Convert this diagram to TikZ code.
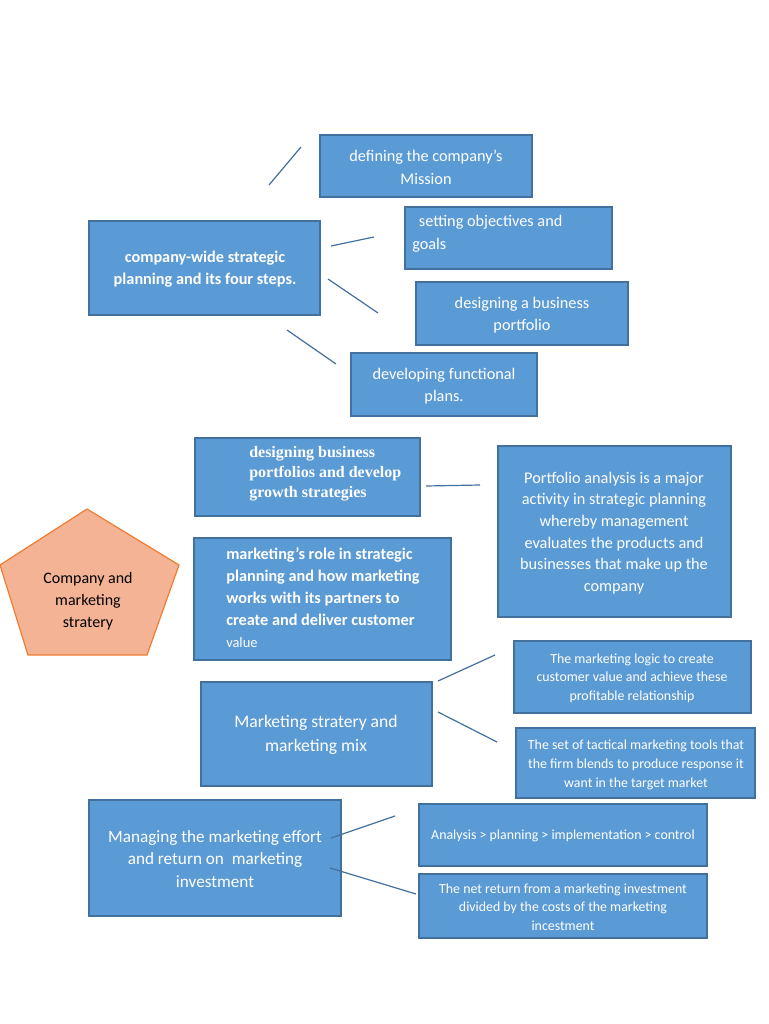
\documentclass[tikz,border=0pt]{standalone}
\usepackage{fontspec}
\setmainfont{Carlito}
\newfontfamily\serifb{Liberation Serif}
\usetikzlibrary{fit}
\definecolor{boxfill}{HTML}{5B9BD5}
\definecolor{boxline}{HTML}{41719C}
\definecolor{connc}{HTML}{44709E}
\definecolor{pentfill}{HTML}{F5B395}
\definecolor{pentline}{HTML}{ED7D31}
\begin{document}
\begin{tikzpicture}[x=0.75pt,y=-0.75pt,
  box/.style={draw=boxline, line width=1.1pt, fill=boxfill, inner sep=0pt},
  txt/.style={text=white, align=center, inner sep=0pt},
  fa/.style={font=\fontsize{12.2}{17}\selectfont},
  fb/.style={font=\fontsize{12.2}{16.5}\selectfont\bfseries},
  fc/.style={font=\fontsize{10.4}{14}\selectfont},
  fd/.style={font=\fontsize{13.2}{18}\selectfont},
  conn/.style={draw=connc, line width=0.9pt}]
\fill[white] (0,0) rectangle (768,1024);
\useasboundingbox (0,0) rectangle (768,1024);

% top cluster
\node[box, fit={(320,135) (532,197)}] (mission) {};
\node[txt, fa] (missiont) at (426,167) {defining the company's\\Mission};
\node[box, fit={(405,207) (612,269)}] (obj) {};
\node[txt, fa, align=left, anchor=west] (objt) at (412,234) {\hspace*{5pt}setting objectives and\\goals};
\node[box, fit={(416,282) (628,345)}] (port) {};
\node[txt, fa] (portt) at (522,315) {designing a business\\portfolio};
\node[box, fit={(351,353) (537,416)}] (func) {};
\node[txt, fa] (funct) at (444,386) {developing functional\\plans.};
\node[box, fit={(89,221) (320,315)}] (main) {};
\node[txt, fb] (maint) at (205,269) {company-wide strategic\\planning and its four steps.};

\coordinate (a1) at (269,185); \coordinate (a2) at (301,147);
\coordinate (b1) at (331,246); \coordinate (b2) at (374,237);
\coordinate (c1) at (328,279); \coordinate (c2) at (378,313);
\coordinate (d1) at (287,330); \coordinate (d2) at (336,364);
\draw[conn] (a1) -- (a2);
\draw[conn] (b1) -- (b2);
\draw[conn] (c1) -- (c2);
\draw[conn] (d1) -- (d2);

% middle
\node[box, fit={(195,438) (420,516)}] (dbp) {};
\node[txt, align=left, anchor=west, font=\serifb\bfseries\fontsize{12}{15}\selectfont] (dbpt) at (249,474) {designing business\\portfolios and develop\\growth strategies};
\node[box, fit={(498,446) (731,617)}] (pa) {};
\node[txt, font=\fontsize{12.2}{16.3}\selectfont] (pat) at (614,533) {Portfolio analysis is a major\\activity in strategic planning\\whereby management\\evaluates the products and\\businesses that make up the\\company};
\coordinate (e1) at (426,486); \coordinate (e2) at (480,485);
\draw[conn] (e1) -- (e2);

\node[box, fit={(194,538) (451,660)}] (role) {};
\node[txt, align=left, anchor=west, fb] (rolet) at (226,598) {marketing’s role in strategic\\planning and how marketing\\works with its partners to\\create and deliver customer\\{\mdseries\fontsize{10.8}{14}\selectfont value}};

\path[draw=pentline, line width=0.9pt, fill=pentfill] (87,509) -- (179,565) -- (147,655) -- (28,655) -- (0,565) -- cycle;
\node[align=center, inner sep=0pt, font=\fontsize{12}{16.5}\selectfont] (pent) at (88,601) {Company and\\marketing\\stratery};

% lower
\node[box, fit={(514,641) (751,713)}] (logic) {};
\node[txt, fc] (logict) at (632,678) {The marketing logic to create\\customer value and achieve these\\profitable relationship};
\node[box, fit={(201,682) (432,786)}] (mix) {};
\node[txt, fd] (mixt) at (316,735) {Marketing stratery and\\marketing mix};
\node[box, fit={(516,728) (755,798)}] (tools) {};
\node[txt, fc] (toolst) at (636,765) {The set of tactical marketing tools that\\the firm blends to produce response it\\want in the target market};
\coordinate (f1) at (438,681); \coordinate (f2) at (495,655);
\coordinate (g1) at (438,712); \coordinate (g2) at (497,742);
\draw[conn] (f1) -- (f2);
\draw[conn] (g1) -- (g2);

\node[box, fit={(89,800) (341,916)}] (manage) {};
\node[txt, font=\fontsize{12.9}{17}\selectfont] (managet) at (215,859) {Managing the marketing effort\\and return on \ marketing\\investment};
\node[box, fit={(419,804) (707,866)}] (anal) {};
\node[txt, fc] (analt) at (563,836) {Analysis > planning > implementation > control};
\node[box, fit={(419,874) (707,938)}] (net) {};
\node[txt, fc] (nett) at (563,907) {The net return from a marketing investment\\divided by the costs of the marketing\\incestment};
\coordinate (h1) at (331,838); \coordinate (h2) at (395,816);
\coordinate (i1) at (330,868); \coordinate (i2) at (416,894);
\draw[conn] (h1) -- (h2);
\draw[conn] (i1) -- (i2);
\end{tikzpicture}
\end{document}
